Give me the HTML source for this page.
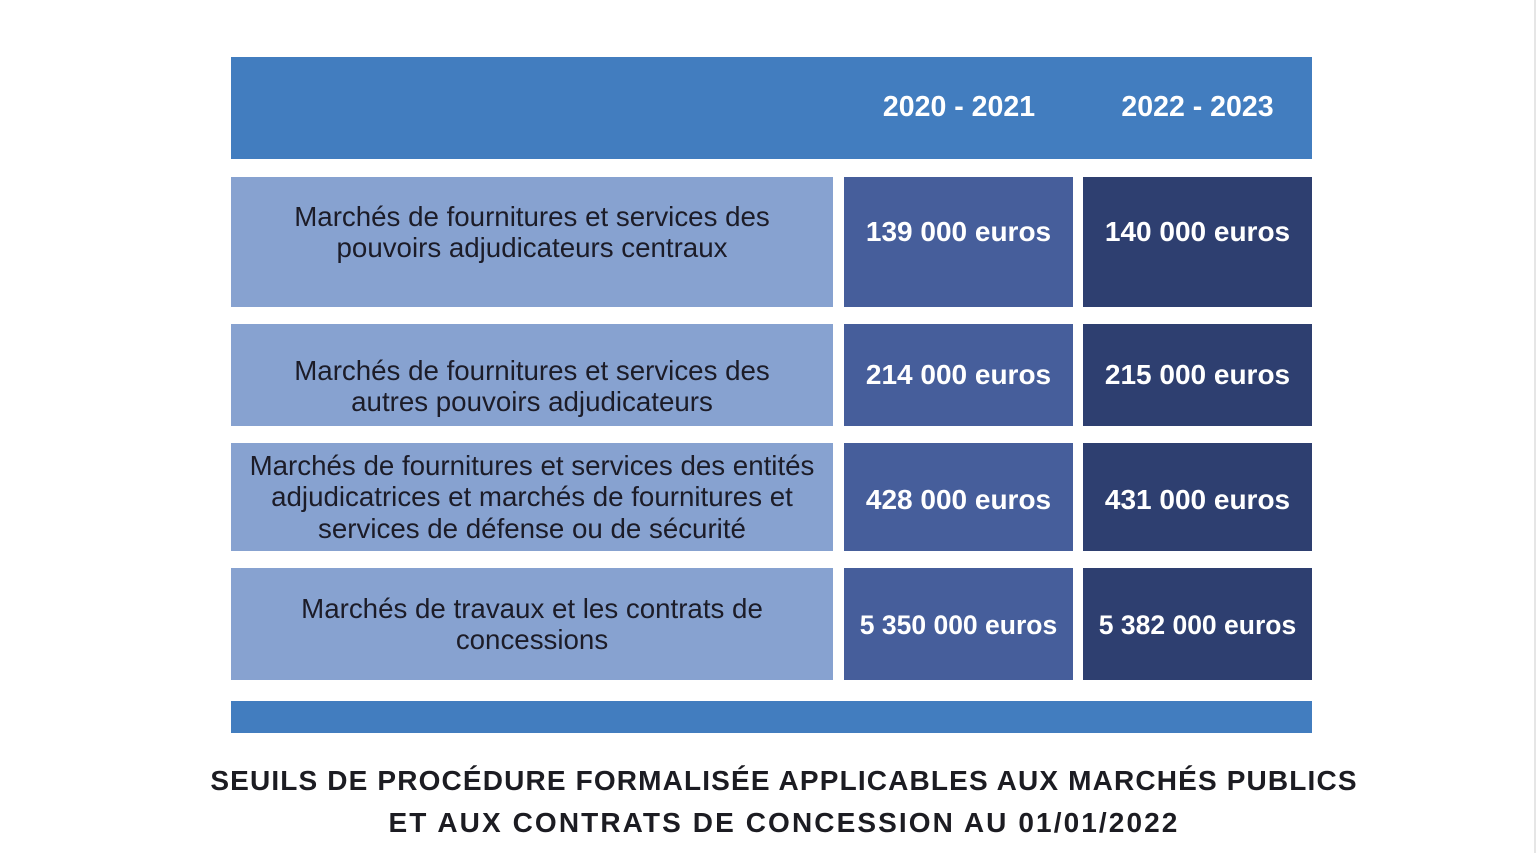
<!DOCTYPE html>
<html><head><meta charset="utf-8"><style>
body{margin:0;width:1536px;height:853px;background:#fff;position:relative;overflow:hidden;font-family:"Liberation Sans",sans-serif;}
.b{position:absolute;display:flex;align-items:center;justify-content:center;text-align:center;color:#fff;box-sizing:border-box;}
.h{background:#427dbf;}
.l{background:#87a2d0;color:#1c1c28;font-size:27.7px;line-height:31.5px;}
.m{background:#465e9b;font-size:28px;font-weight:bold;}
.d{background:#2e3f70;font-size:28px;font-weight:bold;}
.y{font-size:28.5px;font-weight:bold;}
.t{position:absolute;left:0;width:1568px;text-align:center;font-size:28px;font-weight:bold;letter-spacing:1.15px;color:#1c1c22;}
</style></head><body>
<div style="position:absolute;left:1534px;top:0;width:2px;height:853px;background:#e6e6e6"></div>
<div class="b h" style="left:231px;top:57px;width:1081px;height:102px"></div>
<div class="b y" style="left:844px;top:57px;width:230px;height:100px">2020 - 2021</div>
<div class="b y" style="left:1083px;top:57px;width:229px;height:100px">2022 - 2023</div>

<div class="b l" style="left:231px;top:177px;width:602px;height:130px;padding-bottom:20px">Marchés de fournitures et services des<br>pouvoirs adjudicateurs centraux</div>
<div class="b m" style="left:844px;top:177px;width:229px;height:130px;padding-bottom:20px">139 000 euros</div>
<div class="b d" style="left:1083px;top:177px;width:229px;height:130px;padding-bottom:20px">140 000 euros</div>

<div class="b l" style="left:231px;top:324px;width:602px;height:102px;padding-top:22px">Marchés de fournitures et services des<br>autres pouvoirs adjudicateurs</div>
<div class="b m" style="left:844px;top:324px;width:229px;height:102px;padding-top:0px">214 000 euros</div>
<div class="b d" style="left:1083px;top:324px;width:229px;height:102px;padding-top:0px">215 000 euros</div>

<div class="b l" style="left:231px;top:443px;width:602px;height:108px">Marchés de fournitures et services des entités<br>adjudicatrices et marchés de fournitures et<br>services de défense ou de sécurité</div>
<div class="b m" style="left:844px;top:443px;width:229px;height:108px;padding-top:6px">428 000 euros</div>
<div class="b d" style="left:1083px;top:443px;width:229px;height:108px;padding-top:6px">431 000 euros</div>

<div class="b l" style="left:231px;top:568px;width:602px;height:112px">Marchés de travaux et les contrats de<br>concessions</div>
<div class="b m" style="left:844px;top:568px;width:229px;height:112px;font-size:26.5px;padding-top:2px">5 350 000 euros</div>
<div class="b d" style="left:1083px;top:568px;width:229px;height:112px;font-size:26.5px;padding-top:2px">5 382 000 euros</div>

<div class="b h" style="left:231px;top:701px;width:1081px;height:32px"></div>
<div class="t" style="top:765px">SEUILS DE PROCÉDURE FORMALISÉE APPLICABLES AUX MARCHÉS PUBLICS</div>
<div class="t" style="top:807px;letter-spacing:2.1px">ET AUX CONTRATS DE CONCESSION AU 01/01/2022</div>
</body></html>
